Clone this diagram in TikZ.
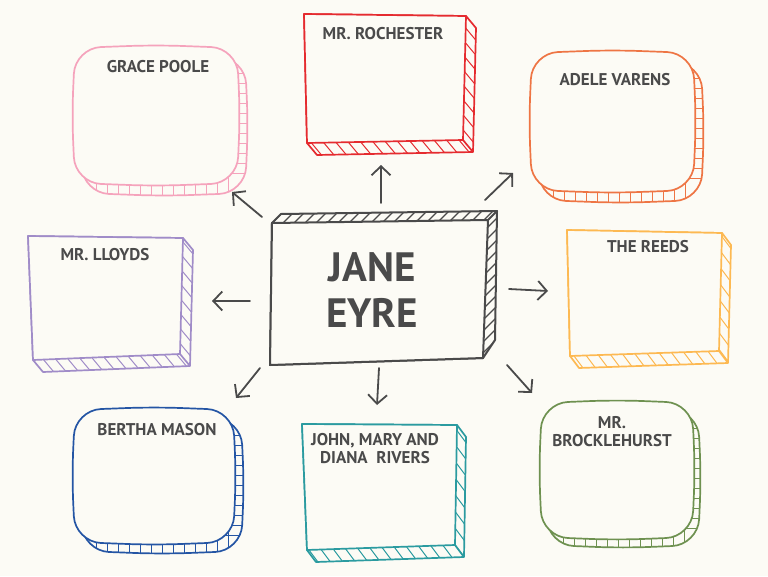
\documentclass[tikz,border=0pt]{standalone}
\usepackage{fontspec}
\setmainfont{PT Sans}
\usetikzlibrary{arrows.meta,calc}
\definecolor{bg}{HTML}{FCFBF5}
\definecolor{ink}{HTML}{4A4A4A}
\definecolor{cpink}{HTML}{F5A3BC}
\definecolor{cred}{HTML}{E52B2F}
\definecolor{corange}{HTML}{EE7544}
\definecolor{cpurple}{HTML}{A08CC8}
\definecolor{cyellow}{HTML}{FDB952}
\definecolor{cblue}{HTML}{2455A4}
\definecolor{cteal}{HTML}{2B9BA0}
\definecolor{cgreen}{HTML}{6E9150}
\tikzset{
 lbl/.style={text=ink, font=\bfseries\fontsize{17}{18}\selectfont, align=center, inner sep=0},
 bigl/.style={text=ink, font=\bfseries\fontsize{41}{44}\selectfont, align=center, inner sep=0},
 arr/.style={draw=ink, line width=1.8, -{Straight Barb[length=9pt,width=19pt]}, line cap=round},
 frame/.style={line width=1.7, fill=bg, line join=round},
 hatch/.style={line width=1},
}
\newcommand\sqbox[3]{%
 \path[frame,draw=#1] (A) -- (B) -- ($(B)+(#2,#3)$) -- ($(C)+(#2,#3)$) -- ($(D)+(#2,#3)$) -- (D) -- cycle;
 \begin{scope}
  \clip (A) -- (B) -- ($(B)+(#2,#3)$) -- ($(C)+(#2,#3)$) -- ($(D)+(#2,#3)$) -- (D) -- cycle;
  \foreach \k in {-14,...,20} \draw[hatch,draw=#1] ($(A)+({\k*12.5-15*(#2)},{-15*(#3)})$) -- ++({30*(#2)},{30*(#3)});
 \end{scope}
 \draw[frame,draw=#1] (C) -- ($(C)+(#2,#3)$);
 \path[frame,draw=#1] (A) -- (B) -- (C) -- (D) -- cycle;
}
% bulgy rounded outline: x1 y1 x2 y2
\newcommand\blob[4]{({#1},{#2}) -- ({(#1+#3)/2},{#2-3}) -- ({#3},{#2}) -- ({#3+3},{(#2+#4)/2}) -- ({#3},{#4}) -- ({(#1+#3)/2},{#4+3}) -- ({#1},{#4}) -- ({#1-3},{(#2+#4)/2}) -- cycle}
\newcommand\rdbox[7]{%
 \path[frame,draw=#1,rounded corners=26] \blob{#2+#6}{#3+#7}{#4+#6}{#5+#7};
 \begin{scope}
  \clip[rounded corners=26] \blob{#2+#6}{#3+#7}{#4+#6}{#5+#7};
  \pgfmathtruncatemacro\nv{(#4-#2-10)/11}
  \pgfmathtruncatemacro\nh{(#5-#3-20)/10}
  \foreach \k in {0,...,\nv} \draw[hatch,draw=#1] ({#2+10+\k*11},{#5-30}) -- ++(0,{#7+40});
  \foreach \k in {0,...,\nh} \draw[hatch,draw=#1] ({#4-30},{#3+15+\k*10}) -- ++({#6+40},0);
 \end{scope}
 \path[frame,draw=#1,rounded corners=26] \blob{#2}{#3}{#4}{#5};
}
\begin{document}
\begin{tikzpicture}[x=1pt,y=-1pt]
\useasboundingbox (0,0) rectangle (768,576);
\fill[bg] (0,0) rectangle (768,576);

% rounded boxes
\rdbox{cpink}{75}{48}{237}{183}{8}{10}
\node[lbl] (grace) at (158,67) {GRACE POOLE};
\rdbox{corange}{532}{53}{693}{190}{8}{10}
\node[lbl] (adele) at (615,80) {ADELE VARENS};
\rdbox{cblue}{75}{410}{233}{542}{8}{9}
\node[lbl] (bertha) at (157,430) {BERTHA MASON};
\rdbox{cgreen}{542}{403}{692}{537}{6}{8}
\node[lbl] (brock) at (612,432) {MR.\\BROCKLEHURST};

% square boxes
\coordinate (A) at (304,14); \coordinate (B) at (466,16);
\coordinate (C) at (463,140); \coordinate (D) at (307,143);
\sqbox{cred}{10}{12}
\node[lbl] (roch) at (383,34) {MR. ROCHESTER};

\coordinate (A) at (28,236); \coordinate (B) at (183,238);
\coordinate (C) at (180,354); \coordinate (D) at (33,360);
\sqbox{cpurple}{10}{12}
\node[lbl] (lloyds) at (105,255) {MR. LLOYDS};

\coordinate (A) at (567,230); \coordinate (B) at (722,233);
\coordinate (C) at (719,351); \coordinate (D) at (570,356);
\sqbox{cyellow}{9}{12}
\node[lbl] (reeds) at (648,247) {THE REEDS};

\coordinate (A) at (302,424); \coordinate (B) at (457,425);
\coordinate (C) at (455,545); \coordinate (D) at (307,550);
\sqbox{cteal}{9}{12}
\node[lbl] (rivers) at (375,449) {JOHN, MARY AND\\DIANA\ \ RIVERS};

% central box
\coordinate (A) at (272,223); \coordinate (B) at (488,220);
\coordinate (C) at (483,358); \coordinate (D) at (270,365);
\path[frame,draw=ink,line width=2] (D) -- (A) -- ($(A)+(9,-9)$) -- ($(B)+(9,-9)$) -- ($(C)+(12,-18)$) -- (C) -- cycle;
\begin{scope}
 \clip (D) -- (A) -- ($(A)+(9,-9)$) -- ($(B)+(9,-9)$) -- ($(C)+(12,-18)$) -- (C) -- cycle;
 \foreach \k in {-5,...,50} \draw[hatch,draw=ink,line width=1.3] ($(A)+({\k*11-150},150)$) -- ++(300,-300);
\end{scope}
\draw[frame,draw=ink,line width=2] (B) -- ($(B)+(9,-9)$);
\path[frame,draw=ink,line width=2] (A) -- (B) -- (C) -- (D) -- cycle;
\node[bigl] (jane) at (372,290) {JANE\\[2pt]EYRE};

% arrows
\coordinate (u1) at (381,203); \coordinate (u2) at (381,165);
\coordinate (ul1) at (262,217); \coordinate (ul2) at (232,192);
\coordinate (l1) at (250,301); \coordinate (l2) at (212,301);
\coordinate (dl1) at (260,368); \coordinate (dl2) at (236,398);
\coordinate (ur1) at (485,200); \coordinate (ur2) at (513,173);
\coordinate (r1) at (509,289); \coordinate (r2) at (548,291);
\coordinate (dr1) at (507,365); \coordinate (dr2) at (532,393);
\coordinate (d1) at (379,368); \coordinate (d2) at (377,405);
\foreach \p in {u,ul,l,dl,ur,r,dr,d} \draw[arr] (\p1) -- (\p2);
\end{tikzpicture}
\end{document}
